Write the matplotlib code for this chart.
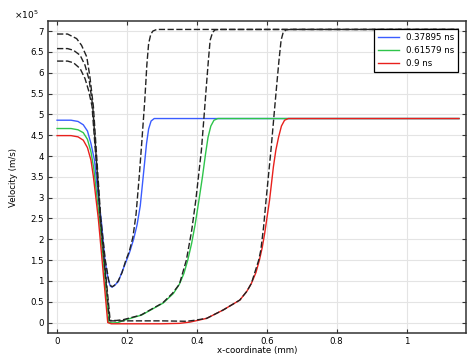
import matplotlib.pyplot as plt

# x-coordinate (mm), velocity in units of 1e5 m/s
blue_x = [0, 0.04, 0.06, 0.075, 0.087, 0.097, 0.107, 0.118, 0.126, 0.137, 0.146, 0.152,
          0.157, 0.163, 0.175, 0.185, 0.196, 0.208, 0.219, 0.229, 0.238, 0.244, 0.25,
          0.256, 0.262, 0.269, 0.278, 1.15]
blue_y = [4.86, 4.86, 4.83, 4.75, 4.6, 4.3, 3.9, 3.0, 2.5, 1.5, 1.05, 0.88,
          0.85, 0.88, 0.98, 1.2, 1.43, 1.7, 2.0, 2.35, 2.8, 3.3, 3.8,
          4.3, 4.65, 4.84, 4.9, 4.9]

green_x = [0, 0.04, 0.06, 0.075, 0.087, 0.097, 0.105, 0.121, 0.148, 0.16, 0.175, 0.194,
           0.242, 0.304, 0.333, 0.35, 0.363, 0.374, 0.385, 0.395, 0.406, 0.416,
           0.425, 0.432, 0.44, 0.449, 0.46, 1.15]
green_y = [4.66, 4.66, 4.63, 4.56, 4.4, 4.1, 3.7, 2.5, 0.0, -0.01, 0.0, 0.06,
           0.18, 0.47, 0.7, 0.92, 1.18, 1.5, 1.9, 2.35, 2.94, 3.5,
           4.06, 4.45, 4.72, 4.86, 4.9, 4.9]

red_x = [0, 0.04, 0.06, 0.075, 0.087, 0.097, 0.104, 0.118, 0.145, 0.155, 0.3, 0.35,
         0.38, 0.428, 0.475, 0.523, 0.543, 0.556, 0.569, 0.579, 0.587, 0.594, 0.608,
         0.619, 0.626, 0.634, 0.642, 0.651, 0.662, 1.15]
red_y = [4.49, 4.49, 4.46, 4.38, 4.2, 3.9, 3.5, 2.5, 0.0, -0.03, -0.03, -0.02,
         0.01, 0.1, 0.3, 0.54, 0.75, 0.94, 1.2, 1.5, 1.8, 2.14, 2.94,
         3.74, 4.14, 4.46, 4.72, 4.86, 4.9, 4.9]

dash1_x = [0, 0.03, 0.056, 0.07, 0.085, 0.094, 0.104, 0.125, 0.138, 0.148, 0.154, 0.158,
           0.165, 0.175, 0.186, 0.195, 0.207, 0.217, 0.226, 0.235, 0.243, 0.251,
           0.257, 0.262, 0.268, 0.274, 0.285, 1.15]
dash1_y = [6.93, 6.93, 6.82, 6.66, 6.38, 5.9, 5.18, 2.5, 1.5, 1.0, 0.88, 0.86,
           0.9, 1.0, 1.2, 1.45, 1.72, 2.05, 2.6, 3.5, 4.4, 5.34,
           6.2, 6.7, 6.92, 7.0, 7.04, 7.04]

dash2_x = [0, 0.03, 0.047, 0.066, 0.08, 0.092, 0.102, 0.124, 0.15, 0.17, 0.19, 0.24,
           0.302, 0.33, 0.35, 0.37, 0.385, 0.397, 0.413, 0.421, 0.427, 0.433,
           0.438, 0.445, 0.452, 0.465, 1.15]
dash2_y = [6.58, 6.58, 6.54, 6.42, 6.18, 5.82, 5.2, 2.5, 0.05, 0.05, 0.07, 0.18,
           0.47, 0.7, 0.92, 1.5, 2.2, 2.94, 4.14, 5.0, 5.66, 6.3,
           6.78, 6.97, 7.03, 7.04, 7.04]

dash3_x = [0, 0.03, 0.047, 0.066, 0.08, 0.09, 0.1, 0.124, 0.152, 0.3, 0.37, 0.39,
           0.428, 0.475, 0.523, 0.543, 0.556, 0.577, 0.583, 0.591, 0.598, 0.612,
           0.621, 0.628, 0.635, 0.641, 0.647, 0.655, 0.668, 1.15]
dash3_y = [6.28, 6.28, 6.24, 6.1, 5.86, 5.58, 5.2, 2.5, 0.04, 0.04, 0.03, 0.05,
           0.1, 0.3, 0.54, 0.75, 0.94, 1.5, 1.74, 2.3, 2.94, 4.14,
           5.0, 5.66, 6.3, 6.78, 6.97, 7.03, 7.04, 7.04]

labels = ["0.37895 ns", "0.61579 ns", "0.9 ns"]
colors = ["#3a5cff", "#2ec44a", "#e8201c"]

fig = plt.figure(figsize=(4.75, 3.58), dpi=100)
ax = fig.add_axes([0.101, 0.07, 0.880, 0.871])

ax.plot(blue_x, blue_y, color=colors[0], lw=1.0, label=labels[0])
ax.plot(green_x, green_y, color=colors[1], lw=1.0, label=labels[1])
ax.plot(red_x, red_y, color=colors[2], lw=1.0, label=labels[2])
for dx, dy in [(dash1_x, dash1_y), (dash2_x, dash2_y), (dash3_x, dash3_y)]:
    ax.plot(dx, dy, color="#222222", lw=1.0, dashes=(4.5, 1.8))

ax.set_xlim(-0.026, 1.17)
ax.set_ylim(-0.25, 7.24)
ax.set_xticks([0, 0.2, 0.4, 0.6, 0.8, 1])
ax.set_xticklabels(["0", "0.2", "0.4", "0.6", "0.8", "1"])
yt = [0, 0.5, 1, 1.5, 2, 2.5, 3, 3.5, 4, 4.5, 5, 5.5, 6, 6.5, 7]
ax.set_yticks(yt)
ax.set_yticklabels(["%g" % v for v in yt])
ax.tick_params(direction="in", top=True, right=True, labelsize=6.2, length=3,
               width=0.8, colors="#333333", labelcolor="black", pad=3)
ax.grid(True, color="#e4e4e4", lw=0.8)
ax.set_axisbelow(True)
for s in ax.spines.values():
    s.set_linewidth(1.1)
    s.set_color("#333333")

ax.set_xlabel("x-coordinate (mm)", fontsize=6.2, labelpad=0)
ax.set_ylabel("Velocity (m/s)", fontsize=6.2, labelpad=9)
fig.text(0.03, 0.948, r"$\times10^5$", fontsize=6.5)

leg = ax.legend(loc="upper right", fontsize=6.2, fancybox=False, framealpha=1,
                edgecolor="black", handlelength=2.4, borderaxespad=0.9,
                labelspacing=0.45, borderpad=0.5)
leg.get_frame().set_linewidth(0.9)

fig.savefig("out.png", dpi=100)
